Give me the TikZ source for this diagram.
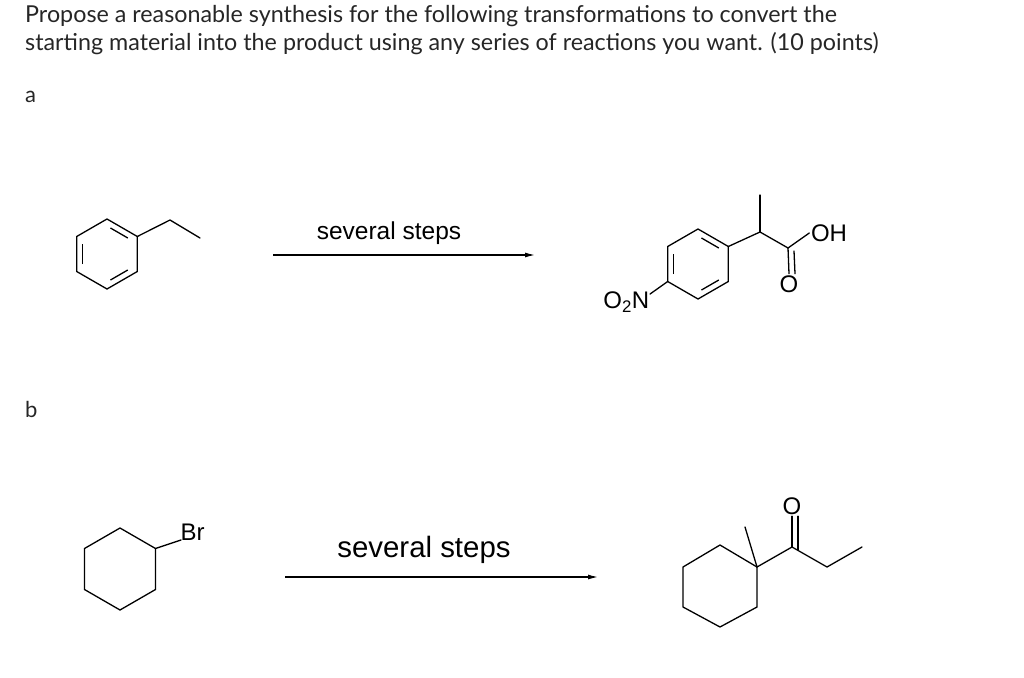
\documentclass[tikz,border=0pt]{standalone}
\usepackage{fontspec}
\setmainfont{Lato}
\newfontfamily\arialf{Liberation Sans}
\usetikzlibrary{calc,arrows.meta}
\begin{document}
\begin{tikzpicture}[x=1pt,y=-1pt,
  bond/.style={line width=1.3pt,line cap=round},
  inner/.style={line width=1.3pt,shorten <=4pt,shorten >=4pt},
  arr/.style={line width=1.2pt,-{Latex[length=10pt,width=5pt]}},
  atom/.style={inner sep=1.5pt,font=\arialf\fontsize{24}{26}\selectfont}]
\useasboundingbox (0,0) rectangle (1024,677);
\node[anchor=north west,align=left,inner sep=0pt,text=black!85,font=\fontsize{23.3}{28}\selectfont] (title) at (25,5)
 {Propose a reasonable synthesis for the following transformations to convert the\\
  starting material into the product using any series of reactions you want. (10 points)};
\node[anchor=west,inner sep=0pt,font=\fontsize{22}{24}\selectfont,text=black!85] (la) at (25,97) {a};
\node[anchor=west,inner sep=0pt,font=\fontsize{22}{24}\selectfont,text=black!85] (lb) at (25,409) {b};
% start a: ethylbenzene
\foreach \n/\a in {1/90,2/30,3/-30,4/-90,5/-150,6/150}
  \coordinate (s\n) at ($(107,254)+(\a:35 and -35)$);
\coordinate (sc) at (107,254);
\draw[bond] (s1)--(s2)--(s3)--(s4)--(s5)--(s6)--cycle;
\draw[inner] ($(sc)!0.8!(s5)$)--($(sc)!0.8!(s6)$);
\draw[inner] ($(sc)!0.8!(s1)$)--($(sc)!0.8!(s2)$);
\draw[inner] ($(sc)!0.8!(s3)$)--($(sc)!0.8!(s4)$);
\coordinate (e1) at (170,220); \coordinate (e2) at (200,238);
\draw[bond] (s2)--(e1)--(e2);
% arrow a
\coordinate (aa1) at (273,255); \coordinate (aa2) at (535,255);
\draw[arr] (aa1)--(aa2);
\node[font=\arialf\fontsize{24.5}{26}\selectfont] (ta) at (389,233) {several steps};
% product a
\foreach \n/\a in {1/90,2/30,3/-30,4/-90,5/-150,6/150}
  \coordinate (p\n) at ($(698,264)+(\a:35 and -35)$);
\coordinate (pc) at (698,264);
\draw[bond] (p1)--(p2)--(p3)--(p4)--(p5)--(p6)--cycle;
\draw[inner] ($(pc)!0.8!(p5)$)--($(pc)!0.8!(p6)$);
\draw[inner] ($(pc)!0.8!(p1)$)--($(pc)!0.8!(p2)$);
\draw[inner] ($(pc)!0.8!(p3)$)--($(pc)!0.8!(p4)$);
\coordinate (ca) at (760,232); \coordinate (me) at (760,195); \coordinate (cc) at (788,248);
\node[atom] (oh) at (829,233) {OH};
\node[atom] (o1) at (789,284) {O};
\node[atom,anchor=east] (no2) at (651,302) {O\textsubscript{2}N};
\draw[bond] (p2)--(ca)--(cc);
\draw[bond] (ca)--(me);
\draw[bond] (cc)--(oh.west);
\draw[bond] (cc)--(o1.north);
\draw[bond] ($(cc)+(6,3)$)--($(o1.north)+(6,0)$);
\draw[bond] (p5)--($(no2.north east)+(-1,4)$);
% start b: bromocyclohexane
\foreach \n/\a in {1/90,2/30,3/-30,4/-90,5/-150,6/150}
  \coordinate (r\n) at ($(120,569)+(\a:41 and -41)$);
\draw[bond] (r1)--(r2)--(r3)--(r4)--(r5)--(r6)--cycle;
\node[atom,anchor=west] (br) at (179,532) {Br};
\draw[bond] (r2)--($(br.west)+(2,8)$);
% arrow b
\coordinate (ba1) at (285,577); \coordinate (ba2) at (598,577);
\draw[arr] (ba1)--(ba2);
\node[font=\arialf\fontsize{29.4}{31}\selectfont] (tb) at (424,550) {several steps};
% product b
\coordinate (q1) at (757,567); \coordinate (q2) at (720,545); \coordinate (q3) at (683,567);
\coordinate (q4) at (683,607); \coordinate (q5) at (720,627); \coordinate (q6) at (757,607);
\draw[bond] (q1)--(q2)--(q3)--(q4)--(q5)--(q6)--cycle;
\coordinate (qm) at (745,527); \coordinate (qc) at (792,547);
\coordinate (qe1) at (827,567); \coordinate (qe2) at (862,547);
\node[atom] (o2) at (792,506) {O};
\draw[bond] (qm)--(q1)--(qc)--(qe1)--(qe2);
\draw[bond] (qc)--(o2.south);
\draw[bond] ($(qc)+(6,3)$)--($(o2.south)+(6,0)$);
\end{tikzpicture}
\end{document}
